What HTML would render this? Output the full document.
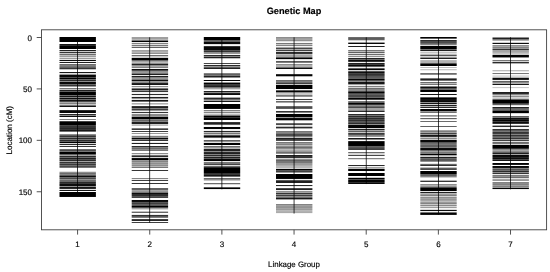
<!DOCTYPE html>
<html><head><meta charset="utf-8"><title>Genetic Map</title>
<style>
html,body{margin:0;padding:0;background:#fff;}
body{width:550px;height:272px;position:relative;overflow:hidden;font-family:"Liberation Sans",sans-serif;}
svg text{font-family:"Liberation Sans",sans-serif;fill:#000;stroke:#000;stroke-width:0.15px;text-rendering:geometricPrecision;}
</style></head><body>
<svg width="550" height="272" viewBox="0 0 550 272" style="position:absolute;left:0;top:0">
<rect x="0" y="0" width="550" height="272" fill="#fff"/>
<g>
<rect x="59.5" y="37" width="36.4" height="5" fill="rgb(0,0,0)"/>
<rect x="59.5" y="44" width="36.4" height="1" fill="rgb(22,22,22)"/>
<rect x="59.5" y="45" width="36.4" height="1" fill="rgb(46,46,46)"/>
<rect x="59.5" y="46" width="36.4" height="3" fill="rgb(0,0,0)"/>
<rect x="59.5" y="50" width="36.4" height="1" fill="rgb(32,32,32)"/>
<rect x="59.5" y="51" width="36.4" height="1" fill="rgb(201,201,201)"/>
<rect x="59.5" y="52" width="36.4" height="1" fill="rgb(53,53,53)"/>
<rect x="59.5" y="53" width="36.4" height="1" fill="rgb(201,201,201)"/>
<rect x="59.5" y="54" width="36.4" height="1" fill="rgb(107,107,107)"/>
<rect x="59.5" y="55" width="36.4" height="1" fill="rgb(189,189,189)"/>
<rect x="59.5" y="56" width="36.4" height="1" fill="rgb(155,155,155)"/>
<rect x="59.5" y="57" width="36.4" height="1" fill="rgb(225,225,225)"/>
<rect x="59.5" y="58" width="36.4" height="1" fill="rgb(154,154,154)"/>
<rect x="59.5" y="59" width="36.4" height="1" fill="rgb(231,231,231)"/>
<rect x="59.5" y="60" width="36.4" height="1" fill="rgb(13,13,13)"/>
<rect x="59.5" y="61" width="36.4" height="1" fill="rgb(243,243,243)"/>
<rect x="59.5" y="62" width="36.4" height="1" fill="rgb(32,32,32)"/>
<rect x="59.5" y="64" width="36.4" height="1" fill="rgb(108,108,108)"/>
<rect x="59.5" y="65" width="36.4" height="1" fill="rgb(128,128,128)"/>
<rect x="59.5" y="66" width="36.4" height="1" fill="rgb(117,117,117)"/>
<rect x="59.5" y="67" width="36.4" height="1" fill="rgb(97,97,97)"/>
<rect x="59.5" y="68" width="36.4" height="1" fill="rgb(53,53,53)"/>
<rect x="59.5" y="69" width="36.4" height="1" fill="rgb(196,196,196)"/>
<rect x="59.5" y="72" width="36.4" height="1" fill="rgb(25,25,25)"/>
<rect x="59.5" y="73" width="36.4" height="1" fill="rgb(228,228,228)"/>
<rect x="59.5" y="74" width="36.4" height="1" fill="rgb(150,150,150)"/>
<rect x="59.5" y="75" width="36.4" height="2" fill="rgb(8,8,8)"/>
<rect x="59.5" y="77" width="36.4" height="1" fill="rgb(76,76,76)"/>
<rect x="59.5" y="78" width="36.4" height="1" fill="rgb(0,0,0)"/>
<rect x="59.5" y="79" width="36.4" height="1" fill="rgb(108,108,108)"/>
<rect x="59.5" y="80" width="36.4" height="1" fill="rgb(43,43,43)"/>
<rect x="59.5" y="81" width="36.4" height="1" fill="rgb(142,142,142)"/>
<rect x="59.5" y="82" width="36.4" height="2" fill="rgb(8,8,8)"/>
<rect x="59.5" y="84" width="36.4" height="1" fill="rgb(106,106,106)"/>
<rect x="59.5" y="85" width="36.4" height="1" fill="rgb(53,53,53)"/>
<rect x="59.5" y="86" width="36.4" height="1" fill="rgb(152,152,152)"/>
<rect x="59.5" y="88" width="36.4" height="1" fill="rgb(119,119,119)"/>
<rect x="59.5" y="89" width="36.4" height="1" fill="rgb(201,201,201)"/>
<rect x="59.5" y="90" width="36.4" height="1" fill="rgb(32,32,32)"/>
<rect x="59.5" y="91" width="36.4" height="1" fill="rgb(97,97,97)"/>
<rect x="59.5" y="92" width="36.4" height="3" fill="rgb(0,0,0)"/>
<rect x="59.5" y="95" width="36.4" height="1" fill="rgb(108,108,108)"/>
<rect x="59.5" y="96" width="36.4" height="1" fill="rgb(22,22,22)"/>
<rect x="59.5" y="97" width="36.4" height="1" fill="rgb(131,131,131)"/>
<rect x="59.5" y="98" width="36.4" height="1" fill="rgb(13,13,13)"/>
<rect x="59.5" y="99" width="36.4" height="1" fill="rgb(108,108,108)"/>
<rect x="59.5" y="100" width="36.4" height="1" fill="rgb(18,18,18)"/>
<rect x="59.5" y="101" width="36.4" height="1" fill="rgb(76,76,76)"/>
<rect x="59.5" y="102" width="36.4" height="1" fill="rgb(171,171,171)"/>
<rect x="59.5" y="103" width="36.4" height="1" fill="rgb(131,131,131)"/>
<rect x="59.5" y="104" width="36.4" height="1" fill="rgb(201,201,201)"/>
<rect x="59.5" y="105" width="36.4" height="1" fill="rgb(119,119,119)"/>
<rect x="59.5" y="106" width="36.4" height="1" fill="rgb(22,22,22)"/>
<rect x="59.5" y="110" width="36.4" height="1" fill="rgb(43,43,43)"/>
<rect x="59.5" y="111" width="36.4" height="2" fill="rgb(8,8,8)"/>
<rect x="59.5" y="114" width="36.4" height="1" fill="rgb(43,43,43)"/>
<rect x="59.5" y="115" width="36.4" height="1" fill="rgb(142,142,142)"/>
<rect x="59.5" y="116" width="36.4" height="1" fill="rgb(13,13,13)"/>
<rect x="59.5" y="119" width="36.4" height="1" fill="rgb(133,133,133)"/>
<rect x="59.5" y="121" width="36.4" height="1" fill="rgb(66,66,66)"/>
<rect x="59.5" y="122" width="36.4" height="3" fill="rgb(0,0,0)"/>
<rect x="59.5" y="125" width="36.4" height="1" fill="rgb(72,72,72)"/>
<rect x="59.5" y="126" width="36.4" height="2" fill="rgb(53,53,53)"/>
<rect x="59.5" y="128" width="36.4" height="1" fill="rgb(39,39,39)"/>
<rect x="59.5" y="129" width="36.4" height="1" fill="rgb(55,55,55)"/>
<rect x="59.5" y="130" width="36.4" height="1" fill="rgb(22,22,22)"/>
<rect x="59.5" y="131" width="36.4" height="1" fill="rgb(111,111,111)"/>
<rect x="59.5" y="134" width="36.4" height="1" fill="rgb(142,142,142)"/>
<rect x="59.5" y="135" width="36.4" height="1" fill="rgb(94,94,94)"/>
<rect x="59.5" y="136" width="36.4" height="1" fill="rgb(51,51,51)"/>
<rect x="59.5" y="137" width="36.4" height="1" fill="rgb(121,121,121)"/>
<rect x="59.5" y="138" width="36.4" height="1" fill="rgb(43,43,43)"/>
<rect x="59.5" y="139" width="36.4" height="1" fill="rgb(119,119,119)"/>
<rect x="59.5" y="140" width="36.4" height="1" fill="rgb(43,43,43)"/>
<rect x="59.5" y="141" width="36.4" height="1" fill="rgb(96,96,96)"/>
<rect x="59.5" y="142" width="36.4" height="1" fill="rgb(0,0,0)"/>
<rect x="59.5" y="143" width="36.4" height="1" fill="rgb(213,213,213)"/>
<rect x="59.5" y="144" width="36.4" height="1" fill="rgb(43,43,43)"/>
<rect x="59.5" y="145" width="36.4" height="1" fill="rgb(243,243,243)"/>
<rect x="59.5" y="146" width="36.4" height="1" fill="rgb(53,53,53)"/>
<rect x="59.5" y="149" width="36.4" height="1" fill="rgb(108,108,108)"/>
<rect x="59.5" y="150" width="36.4" height="1" fill="rgb(75,75,75)"/>
<rect x="59.5" y="151" width="36.4" height="1" fill="rgb(119,119,119)"/>
<rect x="59.5" y="152" width="36.4" height="2" fill="rgb(0,0,0)"/>
<rect x="59.5" y="154" width="36.4" height="1" fill="rgb(97,97,97)"/>
<rect x="59.5" y="155" width="36.4" height="1" fill="rgb(165,165,165)"/>
<rect x="59.5" y="156" width="36.4" height="1" fill="rgb(43,43,43)"/>
<rect x="59.5" y="157" width="36.4" height="1" fill="rgb(108,108,108)"/>
<rect x="59.5" y="158" width="36.4" height="1" fill="rgb(32,32,32)"/>
<rect x="59.5" y="159" width="36.4" height="1" fill="rgb(83,83,83)"/>
<rect x="59.5" y="160" width="36.4" height="1" fill="rgb(43,43,43)"/>
<rect x="59.5" y="161" width="36.4" height="1" fill="rgb(165,165,165)"/>
<rect x="59.5" y="162" width="36.4" height="1" fill="rgb(53,53,53)"/>
<rect x="59.5" y="163" width="36.4" height="1" fill="rgb(108,108,108)"/>
<rect x="59.5" y="164" width="36.4" height="1" fill="rgb(58,58,58)"/>
<rect x="59.5" y="165" width="36.4" height="1" fill="rgb(112,112,112)"/>
<rect x="59.5" y="166" width="36.4" height="1" fill="rgb(75,75,75)"/>
<rect x="59.5" y="167" width="36.4" height="1" fill="rgb(119,119,119)"/>
<rect x="59.5" y="171" width="36.4" height="1" fill="rgb(225,225,225)"/>
<rect x="59.5" y="172" width="36.4" height="1" fill="rgb(142,142,142)"/>
<rect x="59.5" y="173" width="36.4" height="1" fill="rgb(108,108,108)"/>
<rect x="59.5" y="174" width="36.4" height="1" fill="rgb(133,133,133)"/>
<rect x="59.5" y="175" width="36.4" height="1" fill="rgb(91,91,91)"/>
<rect x="59.5" y="176" width="36.4" height="1" fill="rgb(13,13,13)"/>
<rect x="59.5" y="177" width="36.4" height="1" fill="rgb(106,106,106)"/>
<rect x="59.5" y="178" width="36.4" height="1" fill="rgb(76,76,76)"/>
<rect x="59.5" y="179" width="36.4" height="1" fill="rgb(147,147,147)"/>
<rect x="59.5" y="180" width="36.4" height="2" fill="rgb(106,106,106)"/>
<rect x="59.5" y="182" width="36.4" height="1" fill="rgb(43,43,43)"/>
<rect x="59.5" y="183" width="36.4" height="1" fill="rgb(57,57,57)"/>
<rect x="59.5" y="184" width="36.4" height="2" fill="rgb(13,13,13)"/>
<rect x="59.5" y="186" width="36.4" height="1" fill="rgb(144,144,144)"/>
<rect x="59.5" y="187" width="36.4" height="1" fill="rgb(22,22,22)"/>
<rect x="59.5" y="188" width="36.4" height="1" fill="rgb(43,43,43)"/>
<rect x="59.5" y="189" width="36.4" height="1" fill="rgb(230,230,230)"/>
<rect x="59.5" y="190" width="36.4" height="1" fill="rgb(22,22,22)"/>
<rect x="59.5" y="192" width="36.4" height="4" fill="rgb(0,0,0)"/>
<rect x="59.5" y="196" width="36.4" height="1" fill="rgb(8,8,8)"/>
</g>
<rect x="77.20" y="37.3" width="0.75" height="159.40" fill="#000"/>
<g>
<rect x="131.7" y="37" width="36.4" height="2" fill="rgb(159,159,159)"/>
<rect x="131.7" y="39" width="36.4" height="1" fill="rgb(183,183,183)"/>
<rect x="131.7" y="40" width="36.4" height="1" fill="rgb(124,124,124)"/>
<rect x="131.7" y="41" width="36.4" height="1" fill="rgb(0,0,0)"/>
<rect x="131.7" y="42" width="36.4" height="1" fill="rgb(237,237,237)"/>
<rect x="131.7" y="43" width="36.4" height="1" fill="rgb(131,131,131)"/>
<rect x="131.7" y="44" width="36.4" height="1" fill="rgb(225,225,225)"/>
<rect x="131.7" y="45" width="36.4" height="1" fill="rgb(119,119,119)"/>
<rect x="131.7" y="46" width="36.4" height="1" fill="rgb(213,213,213)"/>
<rect x="131.7" y="47" width="36.4" height="1" fill="rgb(97,97,97)"/>
<rect x="131.7" y="50" width="36.4" height="1" fill="rgb(161,161,161)"/>
<rect x="131.7" y="51" width="36.4" height="1" fill="rgb(174,174,174)"/>
<rect x="131.7" y="52" width="36.4" height="1" fill="rgb(181,181,181)"/>
<rect x="131.7" y="53" width="36.4" height="1" fill="rgb(144,144,144)"/>
<rect x="131.7" y="55" width="36.4" height="1" fill="rgb(108,108,108)"/>
<rect x="131.7" y="56" width="36.4" height="1" fill="rgb(203,203,203)"/>
<rect x="131.7" y="57" width="36.4" height="1" fill="rgb(204,204,204)"/>
<rect x="131.7" y="58" width="36.4" height="2" fill="rgb(0,0,0)"/>
<rect x="131.7" y="60" width="36.4" height="1" fill="rgb(108,108,108)"/>
<rect x="131.7" y="61" width="36.4" height="1" fill="rgb(165,165,165)"/>
<rect x="131.7" y="62" width="36.4" height="1" fill="rgb(189,189,189)"/>
<rect x="131.7" y="63" width="36.4" height="1" fill="rgb(142,142,142)"/>
<rect x="131.7" y="64" width="36.4" height="1" fill="rgb(32,32,32)"/>
<rect x="131.7" y="65" width="36.4" height="1" fill="rgb(142,142,142)"/>
<rect x="131.7" y="66" width="36.4" height="1" fill="rgb(165,165,165)"/>
<rect x="131.7" y="67" width="36.4" height="1" fill="rgb(131,131,131)"/>
<rect x="131.7" y="68" width="36.4" height="1" fill="rgb(243,243,243)"/>
<rect x="131.7" y="69" width="36.4" height="1" fill="rgb(13,13,13)"/>
<rect x="131.7" y="70" width="36.4" height="1" fill="rgb(81,81,81)"/>
<rect x="131.7" y="71" width="36.4" height="1" fill="rgb(144,144,144)"/>
<rect x="131.7" y="72" width="36.4" height="1" fill="rgb(154,154,154)"/>
<rect x="131.7" y="73" width="36.4" height="1" fill="rgb(119,119,119)"/>
<rect x="131.7" y="74" width="36.4" height="1" fill="rgb(32,32,32)"/>
<rect x="131.7" y="75" width="36.4" height="1" fill="rgb(237,237,237)"/>
<rect x="131.7" y="76" width="36.4" height="1" fill="rgb(32,32,32)"/>
<rect x="131.7" y="77" width="36.4" height="1" fill="rgb(131,131,131)"/>
<rect x="131.7" y="78" width="36.4" height="1" fill="rgb(154,154,154)"/>
<rect x="131.7" y="79" width="36.4" height="1" fill="rgb(123,123,123)"/>
<rect x="131.7" y="80" width="36.4" height="1" fill="rgb(13,13,13)"/>
<rect x="131.7" y="81" width="36.4" height="1" fill="rgb(154,154,154)"/>
<rect x="131.7" y="82" width="36.4" height="1" fill="rgb(137,137,137)"/>
<rect x="131.7" y="83" width="36.4" height="1" fill="rgb(35,35,35)"/>
<rect x="131.7" y="84" width="36.4" height="1" fill="rgb(21,21,21)"/>
<rect x="131.7" y="86" width="36.4" height="1" fill="rgb(142,142,142)"/>
<rect x="131.7" y="87" width="36.4" height="1" fill="rgb(231,231,231)"/>
<rect x="131.7" y="88" width="36.4" height="1" fill="rgb(124,124,124)"/>
<rect x="131.7" y="89" width="36.4" height="1" fill="rgb(32,32,32)"/>
<rect x="131.7" y="90" width="36.4" height="1" fill="rgb(142,142,142)"/>
<rect x="131.7" y="91" width="36.4" height="1" fill="rgb(53,53,53)"/>
<rect x="131.7" y="92" width="36.4" height="2" fill="rgb(243,243,243)"/>
<rect x="131.7" y="94" width="36.4" height="1" fill="rgb(43,43,43)"/>
<rect x="131.7" y="95" width="36.4" height="2" fill="rgb(243,243,243)"/>
<rect x="131.7" y="97" width="36.4" height="1" fill="rgb(32,32,32)"/>
<rect x="131.7" y="98" width="36.4" height="1" fill="rgb(148,148,148)"/>
<rect x="131.7" y="99" width="36.4" height="1" fill="rgb(231,231,231)"/>
<rect x="131.7" y="100" width="36.4" height="1" fill="rgb(22,22,22)"/>
<rect x="131.7" y="101" width="36.4" height="1" fill="rgb(111,111,111)"/>
<rect x="131.7" y="103" width="36.4" height="1" fill="rgb(176,176,176)"/>
<rect x="131.7" y="104" width="36.4" height="1" fill="rgb(211,211,211)"/>
<rect x="131.7" y="106" width="36.4" height="1" fill="rgb(53,53,53)"/>
<rect x="131.7" y="107" width="36.4" height="1" fill="rgb(32,32,32)"/>
<rect x="131.7" y="108" width="36.4" height="1" fill="rgb(131,131,131)"/>
<rect x="131.7" y="109" width="36.4" height="1" fill="rgb(62,62,62)"/>
<rect x="131.7" y="110" width="36.4" height="1" fill="rgb(152,152,152)"/>
<rect x="131.7" y="111" width="36.4" height="1" fill="rgb(243,243,243)"/>
<rect x="131.7" y="112" width="36.4" height="1" fill="rgb(53,53,53)"/>
<rect x="131.7" y="113" width="36.4" height="1" fill="rgb(243,243,243)"/>
<rect x="131.7" y="114" width="36.4" height="1" fill="rgb(141,141,141)"/>
<rect x="131.7" y="115" width="36.4" height="1" fill="rgb(137,137,137)"/>
<rect x="131.7" y="116" width="36.4" height="1" fill="rgb(154,154,154)"/>
<rect x="131.7" y="117" width="36.4" height="2" fill="rgb(0,0,0)"/>
<rect x="131.7" y="119" width="36.4" height="1" fill="rgb(131,131,131)"/>
<rect x="131.7" y="120" width="36.4" height="1" fill="rgb(102,102,102)"/>
<rect x="131.7" y="121" width="36.4" height="1" fill="rgb(135,135,135)"/>
<rect x="131.7" y="122" width="36.4" height="2" fill="rgb(32,32,32)"/>
<rect x="131.7" y="124" width="36.4" height="1" fill="rgb(201,201,201)"/>
<rect x="131.7" y="125" width="36.4" height="1" fill="rgb(189,189,189)"/>
<rect x="131.7" y="128" width="36.4" height="1" fill="rgb(126,126,126)"/>
<rect x="131.7" y="129" width="36.4" height="1" fill="rgb(62,62,62)"/>
<rect x="131.7" y="131" width="36.4" height="1" fill="rgb(64,64,64)"/>
<rect x="131.7" y="133" width="36.4" height="1" fill="rgb(152,152,152)"/>
<rect x="131.7" y="135" width="36.4" height="1" fill="rgb(232,232,232)"/>
<rect x="131.7" y="136" width="36.4" height="1" fill="rgb(124,124,124)"/>
<rect x="131.7" y="137" width="36.4" height="1" fill="rgb(148,148,148)"/>
<rect x="131.7" y="138" width="36.4" height="1" fill="rgb(8,8,8)"/>
<rect x="131.7" y="139" width="36.4" height="1" fill="rgb(119,119,119)"/>
<rect x="131.7" y="140" width="36.4" height="1" fill="rgb(53,53,53)"/>
<rect x="131.7" y="142" width="36.4" height="1" fill="rgb(235,235,235)"/>
<rect x="131.7" y="143" width="36.4" height="1" fill="rgb(32,32,32)"/>
<rect x="131.7" y="146" width="36.4" height="1" fill="rgb(43,43,43)"/>
<rect x="131.7" y="147" width="36.4" height="1" fill="rgb(131,131,131)"/>
<rect x="131.7" y="148" width="36.4" height="1" fill="rgb(108,108,108)"/>
<rect x="131.7" y="149" width="36.4" height="1" fill="rgb(142,142,142)"/>
<rect x="131.7" y="150" width="36.4" height="1" fill="rgb(119,119,119)"/>
<rect x="131.7" y="153" width="36.4" height="1" fill="rgb(142,142,142)"/>
<rect x="131.7" y="154" width="36.4" height="1" fill="rgb(231,231,231)"/>
<rect x="131.7" y="155" width="36.4" height="1" fill="rgb(115,115,115)"/>
<rect x="131.7" y="156" width="36.4" height="1" fill="rgb(43,43,43)"/>
<rect x="131.7" y="157" width="36.4" height="1" fill="rgb(213,213,213)"/>
<rect x="131.7" y="158" width="36.4" height="1" fill="rgb(17,17,17)"/>
<rect x="131.7" y="159" width="36.4" height="1" fill="rgb(0,0,0)"/>
<rect x="131.7" y="160" width="36.4" height="1" fill="rgb(154,154,154)"/>
<rect x="131.7" y="161" width="36.4" height="1" fill="rgb(131,131,131)"/>
<rect x="131.7" y="162" width="36.4" height="1" fill="rgb(165,165,165)"/>
<rect x="131.7" y="163" width="36.4" height="1" fill="rgb(142,142,142)"/>
<rect x="131.7" y="164" width="36.4" height="1" fill="rgb(165,165,165)"/>
<rect x="131.7" y="165" width="36.4" height="1" fill="rgb(142,142,142)"/>
<rect x="131.7" y="166" width="36.4" height="1" fill="rgb(183,183,183)"/>
<rect x="131.7" y="167" width="36.4" height="1" fill="rgb(119,119,119)"/>
<rect x="131.7" y="170" width="36.4" height="1" fill="rgb(53,53,53)"/>
<rect x="131.7" y="178" width="36.4" height="1" fill="rgb(133,133,133)"/>
<rect x="131.7" y="179" width="36.4" height="1" fill="rgb(239,239,239)"/>
<rect x="131.7" y="180" width="36.4" height="1" fill="rgb(64,64,64)"/>
<rect x="131.7" y="183" width="36.4" height="1" fill="rgb(53,53,53)"/>
<rect x="131.7" y="188" width="36.4" height="2" fill="rgb(97,97,97)"/>
<rect x="131.7" y="190" width="36.4" height="1" fill="rgb(165,165,165)"/>
<rect x="131.7" y="191" width="36.4" height="1" fill="rgb(151,151,151)"/>
<rect x="131.7" y="192" width="36.4" height="1" fill="rgb(121,121,121)"/>
<rect x="131.7" y="193" width="36.4" height="1" fill="rgb(13,13,13)"/>
<rect x="131.7" y="194" width="36.4" height="2" fill="rgb(45,45,45)"/>
<rect x="131.7" y="196" width="36.4" height="1" fill="rgb(84,84,84)"/>
<rect x="131.7" y="197" width="36.4" height="1" fill="rgb(69,69,69)"/>
<rect x="131.7" y="200" width="36.4" height="1" fill="rgb(8,8,8)"/>
<rect x="131.7" y="201" width="36.4" height="1" fill="rgb(15,15,15)"/>
<rect x="131.7" y="202" width="36.4" height="1" fill="rgb(86,86,86)"/>
<rect x="131.7" y="203" width="36.4" height="1" fill="rgb(64,64,64)"/>
<rect x="131.7" y="204" width="36.4" height="1" fill="rgb(97,97,97)"/>
<rect x="131.7" y="205" width="36.4" height="1" fill="rgb(86,86,86)"/>
<rect x="131.7" y="206" width="36.4" height="1" fill="rgb(0,0,0)"/>
<rect x="131.7" y="207" width="36.4" height="1" fill="rgb(79,79,79)"/>
<rect x="131.7" y="208" width="36.4" height="1" fill="rgb(165,165,165)"/>
<rect x="131.7" y="209" width="36.4" height="1" fill="rgb(218,218,218)"/>
<rect x="131.7" y="211" width="36.4" height="1" fill="rgb(193,193,193)"/>
<rect x="131.7" y="212" width="36.4" height="1" fill="rgb(104,104,104)"/>
<rect x="131.7" y="214" width="36.4" height="1" fill="rgb(238,238,238)"/>
<rect x="131.7" y="215" width="36.4" height="1" fill="rgb(50,50,50)"/>
<rect x="131.7" y="216" width="36.4" height="1" fill="rgb(88,88,88)"/>
<rect x="131.7" y="217" width="36.4" height="1" fill="rgb(126,126,126)"/>
<rect x="131.7" y="219" width="36.4" height="1" fill="rgb(66,66,66)"/>
<rect x="131.7" y="220" width="36.4" height="1" fill="rgb(41,41,41)"/>
<rect x="131.7" y="222" width="36.4" height="1" fill="rgb(63,63,63)"/>
</g>
<rect x="149.36" y="37.3" width="0.75" height="185.40" fill="#000"/>
<g>
<rect x="203.8" y="37" width="36.4" height="3" fill="rgb(0,0,0)"/>
<rect x="203.8" y="40" width="36.4" height="2" fill="rgb(97,97,97)"/>
<rect x="203.8" y="42" width="36.4" height="2" fill="rgb(8,8,8)"/>
<rect x="203.8" y="44" width="36.4" height="1" fill="rgb(223,223,223)"/>
<rect x="203.8" y="45" width="36.4" height="1" fill="rgb(249,249,249)"/>
<rect x="203.8" y="46" width="36.4" height="1" fill="rgb(51,51,51)"/>
<rect x="203.8" y="47" width="36.4" height="3" fill="rgb(8,8,8)"/>
<rect x="203.8" y="50" width="36.4" height="1" fill="rgb(86,86,86)"/>
<rect x="203.8" y="51" width="36.4" height="1" fill="rgb(51,51,51)"/>
<rect x="203.8" y="52" width="36.4" height="1" fill="rgb(142,142,142)"/>
<rect x="203.8" y="53" width="36.4" height="1" fill="rgb(152,152,152)"/>
<rect x="203.8" y="54" width="36.4" height="1" fill="rgb(249,249,249)"/>
<rect x="203.8" y="55" width="36.4" height="1" fill="rgb(43,43,43)"/>
<rect x="203.8" y="56" width="36.4" height="1" fill="rgb(131,131,131)"/>
<rect x="203.8" y="57" width="36.4" height="1" fill="rgb(32,32,32)"/>
<rect x="203.8" y="58" width="36.4" height="1" fill="rgb(193,193,193)"/>
<rect x="203.8" y="63" width="36.4" height="1" fill="rgb(71,71,71)"/>
<rect x="203.8" y="64" width="36.4" height="1" fill="rgb(249,249,249)"/>
<rect x="203.8" y="65" width="36.4" height="1" fill="rgb(43,43,43)"/>
<rect x="203.8" y="66" width="36.4" height="1" fill="rgb(154,154,154)"/>
<rect x="203.8" y="67" width="36.4" height="1" fill="rgb(94,94,94)"/>
<rect x="203.8" y="68" width="36.4" height="1" fill="rgb(35,35,35)"/>
<rect x="203.8" y="73" width="36.4" height="1" fill="rgb(131,131,131)"/>
<rect x="203.8" y="74" width="36.4" height="1" fill="rgb(97,97,97)"/>
<rect x="203.8" y="75" width="36.4" height="1" fill="rgb(119,119,119)"/>
<rect x="203.8" y="76" width="36.4" height="1" fill="rgb(32,32,32)"/>
<rect x="203.8" y="77" width="36.4" height="1" fill="rgb(142,142,142)"/>
<rect x="203.8" y="80" width="36.4" height="1" fill="rgb(3,3,3)"/>
<rect x="203.8" y="82" width="36.4" height="1" fill="rgb(145,145,145)"/>
<rect x="203.8" y="83" width="36.4" height="1" fill="rgb(0,0,0)"/>
<rect x="203.8" y="84" width="36.4" height="1" fill="rgb(64,64,64)"/>
<rect x="203.8" y="85" width="36.4" height="1" fill="rgb(53,53,53)"/>
<rect x="203.8" y="86" width="36.4" height="1" fill="rgb(32,32,32)"/>
<rect x="203.8" y="87" width="36.4" height="1" fill="rgb(119,119,119)"/>
<rect x="203.8" y="88" width="36.4" height="1" fill="rgb(165,165,165)"/>
<rect x="203.8" y="89" width="36.4" height="1" fill="rgb(223,223,223)"/>
<rect x="203.8" y="91" width="36.4" height="1" fill="rgb(32,32,32)"/>
<rect x="203.8" y="92" width="36.4" height="1" fill="rgb(142,142,142)"/>
<rect x="203.8" y="93" width="36.4" height="1" fill="rgb(32,32,32)"/>
<rect x="203.8" y="94" width="36.4" height="1" fill="rgb(13,13,13)"/>
<rect x="203.8" y="97" width="36.4" height="1" fill="rgb(169,169,169)"/>
<rect x="203.8" y="98" width="36.4" height="1" fill="rgb(40,40,40)"/>
<rect x="203.8" y="99" width="36.4" height="1" fill="rgb(108,108,108)"/>
<rect x="203.8" y="100" width="36.4" height="1" fill="rgb(161,161,161)"/>
<rect x="203.8" y="101" width="36.4" height="1" fill="rgb(22,22,22)"/>
<rect x="203.8" y="104" width="36.4" height="4" fill="rgb(0,0,0)"/>
<rect x="203.8" y="108" width="36.4" height="1" fill="rgb(16,16,16)"/>
<rect x="203.8" y="110" width="36.4" height="1" fill="rgb(128,128,128)"/>
<rect x="203.8" y="111" width="36.4" height="1" fill="rgb(213,213,213)"/>
<rect x="203.8" y="112" width="36.4" height="1" fill="rgb(131,131,131)"/>
<rect x="203.8" y="113" width="36.4" height="1" fill="rgb(225,225,225)"/>
<rect x="203.8" y="114" width="36.4" height="1" fill="rgb(190,190,190)"/>
<rect x="203.8" y="115" width="36.4" height="1" fill="rgb(119,119,119)"/>
<rect x="203.8" y="116" width="36.4" height="1" fill="rgb(0,0,0)"/>
<rect x="203.8" y="117" width="36.4" height="1" fill="rgb(50,50,50)"/>
<rect x="203.8" y="118" width="36.4" height="2" fill="rgb(0,0,0)"/>
<rect x="203.8" y="122" width="36.4" height="1" fill="rgb(53,53,53)"/>
<rect x="203.8" y="123" width="36.4" height="1" fill="rgb(32,32,32)"/>
<rect x="203.8" y="124" width="36.4" height="1" fill="rgb(97,97,97)"/>
<rect x="203.8" y="125" width="36.4" height="2" fill="rgb(249,249,249)"/>
<rect x="203.8" y="127" width="36.4" height="2" fill="rgb(3,3,3)"/>
<rect x="203.8" y="129" width="36.4" height="2" fill="rgb(243,243,243)"/>
<rect x="203.8" y="131" width="36.4" height="1" fill="rgb(43,43,43)"/>
<rect x="203.8" y="132" width="36.4" height="1" fill="rgb(189,189,189)"/>
<rect x="203.8" y="133" width="36.4" height="1" fill="rgb(119,119,119)"/>
<rect x="203.8" y="134" width="36.4" height="1" fill="rgb(201,201,201)"/>
<rect x="203.8" y="135" width="36.4" height="1" fill="rgb(80,80,80)"/>
<rect x="203.8" y="136" width="36.4" height="1" fill="rgb(8,8,8)"/>
<rect x="203.8" y="137" width="36.4" height="1" fill="rgb(98,98,98)"/>
<rect x="203.8" y="138" width="36.4" height="1" fill="rgb(249,249,249)"/>
<rect x="203.8" y="140" width="36.4" height="1" fill="rgb(97,97,97)"/>
<rect x="203.8" y="141" width="36.4" height="1" fill="rgb(150,150,150)"/>
<rect x="203.8" y="142" width="36.4" height="1" fill="rgb(225,225,225)"/>
<rect x="203.8" y="143" width="36.4" height="2" fill="rgb(0,0,0)"/>
<rect x="203.8" y="146" width="36.4" height="1" fill="rgb(108,108,108)"/>
<rect x="203.8" y="147" width="36.4" height="1" fill="rgb(154,154,154)"/>
<rect x="203.8" y="148" width="36.4" height="1" fill="rgb(183,183,183)"/>
<rect x="203.8" y="149" width="36.4" height="2" fill="rgb(32,32,32)"/>
<rect x="203.8" y="151" width="36.4" height="1" fill="rgb(143,143,143)"/>
<rect x="203.8" y="152" width="36.4" height="1" fill="rgb(43,43,43)"/>
<rect x="203.8" y="153" width="36.4" height="1" fill="rgb(32,32,32)"/>
<rect x="203.8" y="154" width="36.4" height="1" fill="rgb(131,131,131)"/>
<rect x="203.8" y="155" width="36.4" height="1" fill="rgb(43,43,43)"/>
<rect x="203.8" y="156" width="36.4" height="1" fill="rgb(142,142,142)"/>
<rect x="203.8" y="157" width="36.4" height="1" fill="rgb(32,32,32)"/>
<rect x="203.8" y="158" width="36.4" height="1" fill="rgb(95,95,95)"/>
<rect x="203.8" y="159" width="36.4" height="1" fill="rgb(8,8,8)"/>
<rect x="203.8" y="160" width="36.4" height="1" fill="rgb(0,0,0)"/>
<rect x="203.8" y="161" width="36.4" height="1" fill="rgb(237,237,237)"/>
<rect x="203.8" y="162" width="36.4" height="1" fill="rgb(120,120,120)"/>
<rect x="203.8" y="163" width="36.4" height="1" fill="rgb(121,121,121)"/>
<rect x="203.8" y="164" width="36.4" height="1" fill="rgb(70,70,70)"/>
<rect x="203.8" y="165" width="36.4" height="1" fill="rgb(225,225,225)"/>
<rect x="203.8" y="166" width="36.4" height="1" fill="rgb(108,108,108)"/>
<rect x="203.8" y="167" width="36.4" height="1" fill="rgb(45,45,45)"/>
<rect x="203.8" y="168" width="36.4" height="5" fill="rgb(0,0,0)"/>
<rect x="203.8" y="173" width="36.4" height="1" fill="rgb(51,51,51)"/>
<rect x="203.8" y="174" width="36.4" height="1" fill="rgb(58,58,58)"/>
<rect x="203.8" y="175" width="36.4" height="1" fill="rgb(22,22,22)"/>
<rect x="203.8" y="176" width="36.4" height="1" fill="rgb(110,110,110)"/>
<rect x="203.8" y="178" width="36.4" height="1" fill="rgb(108,108,108)"/>
<rect x="203.8" y="179" width="36.4" height="1" fill="rgb(144,144,144)"/>
<rect x="203.8" y="180" width="36.4" height="1" fill="rgb(198,198,198)"/>
<rect x="203.8" y="183" width="36.4" height="1" fill="rgb(108,108,108)"/>
<rect x="203.8" y="184" width="36.4" height="1" fill="rgb(216,216,216)"/>
<rect x="203.8" y="187" width="36.4" height="1" fill="rgb(90,90,90)"/>
<rect x="203.8" y="188" width="36.4" height="1" fill="rgb(0,0,0)"/>
<rect x="203.8" y="189" width="36.4" height="1" fill="rgb(237,237,237)"/>
</g>
<rect x="221.52" y="37.3" width="0.75" height="152.00" fill="#000"/>
<g>
<rect x="276.0" y="37" width="36.4" height="1" fill="rgb(142,142,142)"/>
<rect x="276.0" y="38" width="36.4" height="1" fill="rgb(158,158,158)"/>
<rect x="276.0" y="39" width="36.4" height="1" fill="rgb(165,165,165)"/>
<rect x="276.0" y="40" width="36.4" height="1" fill="rgb(144,144,144)"/>
<rect x="276.0" y="41" width="36.4" height="1" fill="rgb(225,225,225)"/>
<rect x="276.0" y="42" width="36.4" height="1" fill="rgb(249,249,249)"/>
<rect x="276.0" y="43" width="36.4" height="1" fill="rgb(119,119,119)"/>
<rect x="276.0" y="44" width="36.4" height="1" fill="rgb(201,201,201)"/>
<rect x="276.0" y="45" width="36.4" height="1" fill="rgb(131,131,131)"/>
<rect x="276.0" y="46" width="36.4" height="1" fill="rgb(243,243,243)"/>
<rect x="276.0" y="47" width="36.4" height="1" fill="rgb(164,164,164)"/>
<rect x="276.0" y="48" width="36.4" height="1" fill="rgb(69,69,69)"/>
<rect x="276.0" y="49" width="36.4" height="1" fill="rgb(175,175,175)"/>
<rect x="276.0" y="50" width="36.4" height="1" fill="rgb(64,64,64)"/>
<rect x="276.0" y="51" width="36.4" height="1" fill="rgb(213,213,213)"/>
<rect x="276.0" y="52" width="36.4" height="1" fill="rgb(43,43,43)"/>
<rect x="276.0" y="53" width="36.4" height="1" fill="rgb(56,56,56)"/>
<rect x="276.0" y="54" width="36.4" height="1" fill="rgb(189,189,189)"/>
<rect x="276.0" y="55" width="36.4" height="2" fill="rgb(165,165,165)"/>
<rect x="276.0" y="57" width="36.4" height="1" fill="rgb(92,92,92)"/>
<rect x="276.0" y="58" width="36.4" height="1" fill="rgb(0,0,0)"/>
<rect x="276.0" y="59" width="36.4" height="1" fill="rgb(221,221,221)"/>
<rect x="276.0" y="60" width="36.4" height="1" fill="rgb(249,249,249)"/>
<rect x="276.0" y="61" width="36.4" height="1" fill="rgb(90,90,90)"/>
<rect x="276.0" y="62" width="36.4" height="1" fill="rgb(128,128,128)"/>
<rect x="276.0" y="64" width="36.4" height="1" fill="rgb(142,142,142)"/>
<rect x="276.0" y="65" width="36.4" height="2" fill="rgb(177,177,177)"/>
<rect x="276.0" y="67" width="36.4" height="1" fill="rgb(108,108,108)"/>
<rect x="276.0" y="68" width="36.4" height="1" fill="rgb(13,13,13)"/>
<rect x="276.0" y="74" width="36.4" height="1" fill="rgb(49,49,49)"/>
<rect x="276.0" y="75" width="36.4" height="1" fill="rgb(3,3,3)"/>
<rect x="276.0" y="76" width="36.4" height="1" fill="rgb(180,180,180)"/>
<rect x="276.0" y="80" width="36.4" height="1" fill="rgb(108,108,108)"/>
<rect x="276.0" y="81" width="36.4" height="1" fill="rgb(126,126,126)"/>
<rect x="276.0" y="82" width="36.4" height="1" fill="rgb(110,110,110)"/>
<rect x="276.0" y="83" width="36.4" height="1" fill="rgb(64,64,64)"/>
<rect x="276.0" y="84" width="36.4" height="1" fill="rgb(201,201,201)"/>
<rect x="276.0" y="85" width="36.4" height="4" fill="rgb(0,0,0)"/>
<rect x="276.0" y="89" width="36.4" height="1" fill="rgb(249,249,249)"/>
<rect x="276.0" y="90" width="36.4" height="1" fill="rgb(94,94,94)"/>
<rect x="276.0" y="91" width="36.4" height="1" fill="rgb(3,3,3)"/>
<rect x="276.0" y="92" width="36.4" height="1" fill="rgb(142,142,142)"/>
<rect x="276.0" y="93" width="36.4" height="2" fill="rgb(201,201,201)"/>
<rect x="276.0" y="95" width="36.4" height="1" fill="rgb(119,119,119)"/>
<rect x="276.0" y="96" width="36.4" height="1" fill="rgb(148,148,148)"/>
<rect x="276.0" y="98" width="36.4" height="1" fill="rgb(246,246,246)"/>
<rect x="276.0" y="99" width="36.4" height="1" fill="rgb(64,64,64)"/>
<rect x="276.0" y="100" width="36.4" height="1" fill="rgb(249,249,249)"/>
<rect x="276.0" y="101" width="36.4" height="1" fill="rgb(106,106,106)"/>
<rect x="276.0" y="102" width="36.4" height="1" fill="rgb(167,167,167)"/>
<rect x="276.0" y="106" width="36.4" height="1" fill="rgb(108,108,108)"/>
<rect x="276.0" y="107" width="36.4" height="1" fill="rgb(77,77,77)"/>
<rect x="276.0" y="108" width="36.4" height="1" fill="rgb(97,97,97)"/>
<rect x="276.0" y="111" width="36.4" height="1" fill="rgb(53,53,53)"/>
<rect x="276.0" y="112" width="36.4" height="1" fill="rgb(131,131,131)"/>
<rect x="276.0" y="113" width="36.4" height="1" fill="rgb(249,249,249)"/>
<rect x="276.0" y="114" width="36.4" height="2" fill="rgb(0,0,0)"/>
<rect x="276.0" y="116" width="36.4" height="1" fill="rgb(4,4,4)"/>
<rect x="276.0" y="117" width="36.4" height="1" fill="rgb(154,154,154)"/>
<rect x="276.0" y="118" width="36.4" height="1" fill="rgb(12,12,12)"/>
<rect x="276.0" y="119" width="36.4" height="1" fill="rgb(0,0,0)"/>
<rect x="276.0" y="120" width="36.4" height="1" fill="rgb(175,175,175)"/>
<rect x="276.0" y="123" width="36.4" height="1" fill="rgb(108,108,108)"/>
<rect x="276.0" y="124" width="36.4" height="1" fill="rgb(75,75,75)"/>
<rect x="276.0" y="125" width="36.4" height="1" fill="rgb(236,236,236)"/>
<rect x="276.0" y="126" width="36.4" height="1" fill="rgb(190,190,190)"/>
<rect x="276.0" y="127" width="36.4" height="1" fill="rgb(43,43,43)"/>
<rect x="276.0" y="128" width="36.4" height="1" fill="rgb(170,170,170)"/>
<rect x="276.0" y="131" width="36.4" height="1" fill="rgb(119,119,119)"/>
<rect x="276.0" y="132" width="36.4" height="1" fill="rgb(135,135,135)"/>
<rect x="276.0" y="133" width="36.4" height="1" fill="rgb(121,121,121)"/>
<rect x="276.0" y="134" width="36.4" height="2" fill="rgb(75,75,75)"/>
<rect x="276.0" y="136" width="36.4" height="1" fill="rgb(131,131,131)"/>
<rect x="276.0" y="137" width="36.4" height="1" fill="rgb(201,201,201)"/>
<rect x="276.0" y="138" width="36.4" height="1" fill="rgb(32,32,32)"/>
<rect x="276.0" y="139" width="36.4" height="1" fill="rgb(63,63,63)"/>
<rect x="276.0" y="140" width="36.4" height="1" fill="rgb(79,79,79)"/>
<rect x="276.0" y="142" width="36.4" height="1" fill="rgb(119,119,119)"/>
<rect x="276.0" y="143" width="36.4" height="1" fill="rgb(154,154,154)"/>
<rect x="276.0" y="144" width="36.4" height="1" fill="rgb(131,131,131)"/>
<rect x="276.0" y="145" width="36.4" height="1" fill="rgb(189,189,189)"/>
<rect x="276.0" y="146" width="36.4" height="1" fill="rgb(142,142,142)"/>
<rect x="276.0" y="147" width="36.4" height="1" fill="rgb(108,108,108)"/>
<rect x="276.0" y="148" width="36.4" height="1" fill="rgb(142,142,142)"/>
<rect x="276.0" y="149" width="36.4" height="1" fill="rgb(189,189,189)"/>
<rect x="276.0" y="150" width="36.4" height="1" fill="rgb(171,171,171)"/>
<rect x="276.0" y="151" width="36.4" height="1" fill="rgb(154,154,154)"/>
<rect x="276.0" y="152" width="36.4" height="1" fill="rgb(111,111,111)"/>
<rect x="276.0" y="153" width="36.4" height="1" fill="rgb(145,145,145)"/>
<rect x="276.0" y="155" width="36.4" height="1" fill="rgb(32,32,32)"/>
<rect x="276.0" y="156" width="36.4" height="2" fill="rgb(53,53,53)"/>
<rect x="276.0" y="158" width="36.4" height="1" fill="rgb(213,213,213)"/>
<rect x="276.0" y="159" width="36.4" height="1" fill="rgb(142,142,142)"/>
<rect x="276.0" y="160" width="36.4" height="1" fill="rgb(99,99,99)"/>
<rect x="276.0" y="161" width="36.4" height="2" fill="rgb(119,119,119)"/>
<rect x="276.0" y="163" width="36.4" height="2" fill="rgb(154,154,154)"/>
<rect x="276.0" y="165" width="36.4" height="1" fill="rgb(171,171,171)"/>
<rect x="276.0" y="166" width="36.4" height="2" fill="rgb(183,183,183)"/>
<rect x="276.0" y="168" width="36.4" height="1" fill="rgb(213,213,213)"/>
<rect x="276.0" y="169" width="36.4" height="1" fill="rgb(0,0,0)"/>
<rect x="276.0" y="170" width="36.4" height="1" fill="rgb(86,86,86)"/>
<rect x="276.0" y="171" width="36.4" height="1" fill="rgb(64,64,64)"/>
<rect x="276.0" y="172" width="36.4" height="1" fill="rgb(155,155,155)"/>
<rect x="276.0" y="174" width="36.4" height="4" fill="rgb(0,0,0)"/>
<rect x="276.0" y="178" width="36.4" height="1" fill="rgb(11,11,11)"/>
<rect x="276.0" y="179" width="36.4" height="1" fill="rgb(243,243,243)"/>
<rect x="276.0" y="180" width="36.4" height="1" fill="rgb(86,86,86)"/>
<rect x="276.0" y="181" width="36.4" height="2" fill="rgb(32,32,32)"/>
<rect x="276.0" y="185" width="36.4" height="1" fill="rgb(43,43,43)"/>
<rect x="276.0" y="186" width="36.4" height="1" fill="rgb(238,238,238)"/>
<rect x="276.0" y="188" width="36.4" height="1" fill="rgb(75,75,75)"/>
<rect x="276.0" y="189" width="36.4" height="1" fill="rgb(32,32,32)"/>
<rect x="276.0" y="190" width="36.4" height="1" fill="rgb(243,243,243)"/>
<rect x="276.0" y="191" width="36.4" height="1" fill="rgb(142,142,142)"/>
<rect x="276.0" y="192" width="36.4" height="1" fill="rgb(165,165,165)"/>
<rect x="276.0" y="193" width="36.4" height="1" fill="rgb(53,53,53)"/>
<rect x="276.0" y="194" width="36.4" height="1" fill="rgb(142,142,142)"/>
<rect x="276.0" y="195" width="36.4" height="1" fill="rgb(64,64,64)"/>
<rect x="276.0" y="196" width="36.4" height="1" fill="rgb(142,142,142)"/>
<rect x="276.0" y="197" width="36.4" height="1" fill="rgb(108,108,108)"/>
<rect x="276.0" y="198" width="36.4" height="1" fill="rgb(22,22,22)"/>
<rect x="276.0" y="199" width="36.4" height="1" fill="rgb(162,162,162)"/>
<rect x="276.0" y="204" width="36.4" height="1" fill="rgb(131,131,131)"/>
<rect x="276.0" y="205" width="36.4" height="1" fill="rgb(162,162,162)"/>
<rect x="276.0" y="206" width="36.4" height="1" fill="rgb(151,151,151)"/>
<rect x="276.0" y="207" width="36.4" height="1" fill="rgb(147,147,147)"/>
<rect x="276.0" y="208" width="36.4" height="1" fill="rgb(165,165,165)"/>
<rect x="276.0" y="209" width="36.4" height="1" fill="rgb(154,154,154)"/>
<rect x="276.0" y="210" width="36.4" height="1" fill="rgb(185,185,185)"/>
<rect x="276.0" y="211" width="36.4" height="1" fill="rgb(178,178,178)"/>
<rect x="276.0" y="212" width="36.4" height="1" fill="rgb(171,171,171)"/>
<rect x="276.0" y="213" width="36.4" height="1" fill="rgb(246,246,246)"/>
</g>
<rect x="293.68" y="37.3" width="0.75" height="176.25" fill="#000"/>
<g>
<rect x="348.2" y="37" width="36.4" height="1" fill="rgb(108,108,108)"/>
<rect x="348.2" y="38" width="36.4" height="1" fill="rgb(92,92,92)"/>
<rect x="348.2" y="39" width="36.4" height="1" fill="rgb(99,99,99)"/>
<rect x="348.2" y="40" width="36.4" height="1" fill="rgb(212,212,212)"/>
<rect x="348.2" y="42" width="36.4" height="1" fill="rgb(157,157,157)"/>
<rect x="348.2" y="43" width="36.4" height="1" fill="rgb(8,8,8)"/>
<rect x="348.2" y="46" width="36.4" height="1" fill="rgb(32,32,32)"/>
<rect x="348.2" y="50" width="36.4" height="1" fill="rgb(119,119,119)"/>
<rect x="348.2" y="51" width="36.4" height="1" fill="rgb(189,189,189)"/>
<rect x="348.2" y="52" width="36.4" height="1" fill="rgb(97,97,97)"/>
<rect x="348.2" y="53" width="36.4" height="1" fill="rgb(225,225,225)"/>
<rect x="348.2" y="54" width="36.4" height="1" fill="rgb(108,108,108)"/>
<rect x="348.2" y="55" width="36.4" height="1" fill="rgb(225,225,225)"/>
<rect x="348.2" y="56" width="36.4" height="1" fill="rgb(143,143,143)"/>
<rect x="348.2" y="57" width="36.4" height="1" fill="rgb(243,243,243)"/>
<rect x="348.2" y="58" width="36.4" height="1" fill="rgb(32,32,32)"/>
<rect x="348.2" y="59" width="36.4" height="1" fill="rgb(110,110,110)"/>
<rect x="348.2" y="60" width="36.4" height="1" fill="rgb(13,13,13)"/>
<rect x="348.2" y="61" width="36.4" height="1" fill="rgb(54,54,54)"/>
<rect x="348.2" y="62" width="36.4" height="1" fill="rgb(243,243,243)"/>
<rect x="348.2" y="63" width="36.4" height="1" fill="rgb(32,32,32)"/>
<rect x="348.2" y="64" width="36.4" height="1" fill="rgb(64,64,64)"/>
<rect x="348.2" y="65" width="36.4" height="1" fill="rgb(8,8,8)"/>
<rect x="348.2" y="66" width="36.4" height="1" fill="rgb(95,95,95)"/>
<rect x="348.2" y="67" width="36.4" height="1" fill="rgb(243,243,243)"/>
<rect x="348.2" y="68" width="36.4" height="1" fill="rgb(97,97,97)"/>
<rect x="348.2" y="69" width="36.4" height="1" fill="rgb(3,3,3)"/>
<rect x="348.2" y="70" width="36.4" height="1" fill="rgb(213,213,213)"/>
<rect x="348.2" y="71" width="36.4" height="1" fill="rgb(84,84,84)"/>
<rect x="348.2" y="72" width="36.4" height="1" fill="rgb(15,15,15)"/>
<rect x="348.2" y="73" width="36.4" height="1" fill="rgb(68,68,68)"/>
<rect x="348.2" y="74" width="36.4" height="1" fill="rgb(51,51,51)"/>
<rect x="348.2" y="75" width="36.4" height="1" fill="rgb(64,64,64)"/>
<rect x="348.2" y="76" width="36.4" height="1" fill="rgb(86,86,86)"/>
<rect x="348.2" y="77" width="36.4" height="1" fill="rgb(92,92,92)"/>
<rect x="348.2" y="78" width="36.4" height="1" fill="rgb(97,97,97)"/>
<rect x="348.2" y="79" width="36.4" height="1" fill="rgb(3,3,3)"/>
<rect x="348.2" y="80" width="36.4" height="1" fill="rgb(86,86,86)"/>
<rect x="348.2" y="81" width="36.4" height="1" fill="rgb(140,140,140)"/>
<rect x="348.2" y="82" width="36.4" height="2" fill="rgb(22,22,22)"/>
<rect x="348.2" y="84" width="36.4" height="1" fill="rgb(157,157,157)"/>
<rect x="348.2" y="85" width="36.4" height="1" fill="rgb(241,241,241)"/>
<rect x="348.2" y="86" width="36.4" height="1" fill="rgb(128,128,128)"/>
<rect x="348.2" y="87" width="36.4" height="1" fill="rgb(213,213,213)"/>
<rect x="348.2" y="88" width="36.4" height="1" fill="rgb(108,108,108)"/>
<rect x="348.2" y="89" width="36.4" height="1" fill="rgb(137,137,137)"/>
<rect x="348.2" y="90" width="36.4" height="1" fill="rgb(142,142,142)"/>
<rect x="348.2" y="91" width="36.4" height="1" fill="rgb(75,75,75)"/>
<rect x="348.2" y="92" width="36.4" height="1" fill="rgb(3,3,3)"/>
<rect x="348.2" y="93" width="36.4" height="1" fill="rgb(75,75,75)"/>
<rect x="348.2" y="94" width="36.4" height="1" fill="rgb(97,97,97)"/>
<rect x="348.2" y="95" width="36.4" height="2" fill="rgb(75,75,75)"/>
<rect x="348.2" y="97" width="36.4" height="1" fill="rgb(108,108,108)"/>
<rect x="348.2" y="98" width="36.4" height="1" fill="rgb(3,3,3)"/>
<rect x="348.2" y="99" width="36.4" height="1" fill="rgb(73,73,73)"/>
<rect x="348.2" y="101" width="36.4" height="1" fill="rgb(119,119,119)"/>
<rect x="348.2" y="102" width="36.4" height="1" fill="rgb(97,97,97)"/>
<rect x="348.2" y="103" width="36.4" height="1" fill="rgb(3,3,3)"/>
<rect x="348.2" y="104" width="36.4" height="1" fill="rgb(55,55,55)"/>
<rect x="348.2" y="105" width="36.4" height="1" fill="rgb(142,142,142)"/>
<rect x="348.2" y="106" width="36.4" height="1" fill="rgb(108,108,108)"/>
<rect x="348.2" y="107" width="36.4" height="1" fill="rgb(75,75,75)"/>
<rect x="348.2" y="108" width="36.4" height="2" fill="rgb(165,165,165)"/>
<rect x="348.2" y="110" width="36.4" height="1" fill="rgb(140,140,140)"/>
<rect x="348.2" y="111" width="36.4" height="1" fill="rgb(43,43,43)"/>
<rect x="348.2" y="114" width="36.4" height="1" fill="rgb(43,43,43)"/>
<rect x="348.2" y="115" width="36.4" height="1" fill="rgb(121,121,121)"/>
<rect x="348.2" y="116" width="36.4" height="1" fill="rgb(43,43,43)"/>
<rect x="348.2" y="117" width="36.4" height="1" fill="rgb(95,95,95)"/>
<rect x="348.2" y="118" width="36.4" height="1" fill="rgb(41,41,41)"/>
<rect x="348.2" y="119" width="36.4" height="1" fill="rgb(77,77,77)"/>
<rect x="348.2" y="120" width="36.4" height="1" fill="rgb(47,47,47)"/>
<rect x="348.2" y="121" width="36.4" height="1" fill="rgb(88,88,88)"/>
<rect x="348.2" y="122" width="36.4" height="1" fill="rgb(81,81,81)"/>
<rect x="348.2" y="123" width="36.4" height="1" fill="rgb(43,43,43)"/>
<rect x="348.2" y="124" width="36.4" height="1" fill="rgb(142,142,142)"/>
<rect x="348.2" y="125" width="36.4" height="3" fill="rgb(3,3,3)"/>
<rect x="348.2" y="128" width="36.4" height="1" fill="rgb(213,213,213)"/>
<rect x="348.2" y="129" width="36.4" height="1" fill="rgb(32,32,32)"/>
<rect x="348.2" y="130" width="36.4" height="1" fill="rgb(165,165,165)"/>
<rect x="348.2" y="131" width="36.4" height="1" fill="rgb(97,97,97)"/>
<rect x="348.2" y="132" width="36.4" height="1" fill="rgb(201,201,201)"/>
<rect x="348.2" y="133" width="36.4" height="1" fill="rgb(57,57,57)"/>
<rect x="348.2" y="134" width="36.4" height="1" fill="rgb(81,81,81)"/>
<rect x="348.2" y="135" width="36.4" height="1" fill="rgb(132,132,132)"/>
<rect x="348.2" y="136" width="36.4" height="1" fill="rgb(151,151,151)"/>
<rect x="348.2" y="138" width="36.4" height="1" fill="rgb(22,22,22)"/>
<rect x="348.2" y="139" width="36.4" height="1" fill="rgb(133,133,133)"/>
<rect x="348.2" y="141" width="36.4" height="1" fill="rgb(32,32,32)"/>
<rect x="348.2" y="142" width="36.4" height="3" fill="rgb(0,0,0)"/>
<rect x="348.2" y="145" width="36.4" height="1" fill="rgb(3,3,3)"/>
<rect x="348.2" y="146" width="36.4" height="1" fill="rgb(97,97,97)"/>
<rect x="348.2" y="147" width="36.4" height="1" fill="rgb(86,86,86)"/>
<rect x="348.2" y="148" width="36.4" height="1" fill="rgb(72,72,72)"/>
<rect x="348.2" y="149" width="36.4" height="1" fill="rgb(64,64,64)"/>
<rect x="348.2" y="152" width="36.4" height="1" fill="rgb(108,108,108)"/>
<rect x="348.2" y="153" width="36.4" height="1" fill="rgb(212,212,212)"/>
<rect x="348.2" y="154" width="36.4" height="1" fill="rgb(216,216,216)"/>
<rect x="348.2" y="155" width="36.4" height="1" fill="rgb(72,72,72)"/>
<rect x="348.2" y="158" width="36.4" height="1" fill="rgb(131,131,131)"/>
<rect x="348.2" y="159" width="36.4" height="1" fill="rgb(223,223,223)"/>
<rect x="348.2" y="165" width="36.4" height="1" fill="rgb(43,43,43)"/>
<rect x="348.2" y="166" width="36.4" height="1" fill="rgb(243,243,243)"/>
<rect x="348.2" y="167" width="36.4" height="1" fill="rgb(165,165,165)"/>
<rect x="348.2" y="168" width="36.4" height="1" fill="rgb(189,189,189)"/>
<rect x="348.2" y="169" width="36.4" height="2" fill="rgb(3,3,3)"/>
<rect x="348.2" y="173" width="36.4" height="3" fill="rgb(0,0,0)"/>
<rect x="348.2" y="177" width="36.4" height="1" fill="rgb(204,204,204)"/>
<rect x="348.2" y="178" width="36.4" height="1" fill="rgb(0,0,0)"/>
<rect x="348.2" y="179" width="36.4" height="1" fill="rgb(86,86,86)"/>
<rect x="348.2" y="180" width="36.4" height="2" fill="rgb(3,3,3)"/>
<rect x="348.2" y="182" width="36.4" height="1" fill="rgb(46,46,46)"/>
<rect x="348.2" y="183" width="36.4" height="1" fill="rgb(8,8,8)"/>
</g>
<rect x="365.83" y="37.3" width="0.75" height="146.75" fill="#000"/>
<g>
<rect x="420.3" y="37" width="36.4" height="1" fill="rgb(3,3,3)"/>
<rect x="420.3" y="38" width="36.4" height="1" fill="rgb(97,97,97)"/>
<rect x="420.3" y="40" width="36.4" height="1" fill="rgb(43,43,43)"/>
<rect x="420.3" y="41" width="36.4" height="2" fill="rgb(75,75,75)"/>
<rect x="420.3" y="43" width="36.4" height="1" fill="rgb(101,101,101)"/>
<rect x="420.3" y="44" width="36.4" height="1" fill="rgb(129,129,129)"/>
<rect x="420.3" y="45" width="36.4" height="1" fill="rgb(219,219,219)"/>
<rect x="420.3" y="46" width="36.4" height="3" fill="rgb(0,0,0)"/>
<rect x="420.3" y="49" width="36.4" height="1" fill="rgb(110,110,110)"/>
<rect x="420.3" y="50" width="36.4" height="1" fill="rgb(32,32,32)"/>
<rect x="420.3" y="51" width="36.4" height="1" fill="rgb(232,232,232)"/>
<rect x="420.3" y="52" width="36.4" height="1" fill="rgb(195,195,195)"/>
<rect x="420.3" y="53" width="36.4" height="1" fill="rgb(225,225,225)"/>
<rect x="420.3" y="54" width="36.4" height="1" fill="rgb(185,185,185)"/>
<rect x="420.3" y="55" width="36.4" height="1" fill="rgb(83,83,83)"/>
<rect x="420.3" y="56" width="36.4" height="1" fill="rgb(213,213,213)"/>
<rect x="420.3" y="57" width="36.4" height="1" fill="rgb(151,151,151)"/>
<rect x="420.3" y="58" width="36.4" height="1" fill="rgb(32,32,32)"/>
<rect x="420.3" y="60" width="36.4" height="1" fill="rgb(183,183,183)"/>
<rect x="420.3" y="61" width="36.4" height="2" fill="rgb(177,177,177)"/>
<rect x="420.3" y="63" width="36.4" height="1" fill="rgb(86,86,86)"/>
<rect x="420.3" y="64" width="36.4" height="2" fill="rgb(0,0,0)"/>
<rect x="420.3" y="67" width="36.4" height="1" fill="rgb(189,189,189)"/>
<rect x="420.3" y="69" width="36.4" height="1" fill="rgb(201,201,201)"/>
<rect x="420.3" y="70" width="36.4" height="1" fill="rgb(237,237,237)"/>
<rect x="420.3" y="73" width="36.4" height="1" fill="rgb(108,108,108)"/>
<rect x="420.3" y="74" width="36.4" height="1" fill="rgb(140,140,140)"/>
<rect x="420.3" y="78" width="36.4" height="1" fill="rgb(120,120,120)"/>
<rect x="420.3" y="79" width="36.4" height="1" fill="rgb(32,32,32)"/>
<rect x="420.3" y="80" width="36.4" height="1" fill="rgb(117,117,117)"/>
<rect x="420.3" y="82" width="36.4" height="1" fill="rgb(108,108,108)"/>
<rect x="420.3" y="83" width="36.4" height="1" fill="rgb(189,189,189)"/>
<rect x="420.3" y="84" width="36.4" height="1" fill="rgb(119,119,119)"/>
<rect x="420.3" y="86" width="36.4" height="1" fill="rgb(128,128,128)"/>
<rect x="420.3" y="87" width="36.4" height="1" fill="rgb(13,13,13)"/>
<rect x="420.3" y="88" width="36.4" height="1" fill="rgb(83,83,83)"/>
<rect x="420.3" y="89" width="36.4" height="1" fill="rgb(108,108,108)"/>
<rect x="420.3" y="90" width="36.4" height="2" fill="rgb(0,0,0)"/>
<rect x="420.3" y="94" width="36.4" height="1" fill="rgb(22,22,22)"/>
<rect x="420.3" y="97" width="36.4" height="1" fill="rgb(92,92,92)"/>
<rect x="420.3" y="98" width="36.4" height="1" fill="rgb(0,0,0)"/>
<rect x="420.3" y="99" width="36.4" height="1" fill="rgb(20,20,20)"/>
<rect x="420.3" y="100" width="36.4" height="1" fill="rgb(19,19,19)"/>
<rect x="420.3" y="101" width="36.4" height="1" fill="rgb(8,8,8)"/>
<rect x="420.3" y="102" width="36.4" height="1" fill="rgb(144,144,144)"/>
<rect x="420.3" y="103" width="36.4" height="1" fill="rgb(22,22,22)"/>
<rect x="420.3" y="104" width="36.4" height="1" fill="rgb(213,213,213)"/>
<rect x="420.3" y="105" width="36.4" height="1" fill="rgb(32,32,32)"/>
<rect x="420.3" y="106" width="36.4" height="1" fill="rgb(177,177,177)"/>
<rect x="420.3" y="107" width="36.4" height="1" fill="rgb(43,43,43)"/>
<rect x="420.3" y="109" width="36.4" height="2" fill="rgb(3,3,3)"/>
<rect x="420.3" y="111" width="36.4" height="1" fill="rgb(151,151,151)"/>
<rect x="420.3" y="112" width="36.4" height="1" fill="rgb(112,112,112)"/>
<rect x="420.3" y="115" width="36.4" height="1" fill="rgb(142,142,142)"/>
<rect x="420.3" y="116" width="36.4" height="1" fill="rgb(177,177,177)"/>
<rect x="420.3" y="118" width="36.4" height="1" fill="rgb(97,97,97)"/>
<rect x="420.3" y="119" width="36.4" height="1" fill="rgb(227,227,227)"/>
<rect x="420.3" y="121" width="36.4" height="1" fill="rgb(108,108,108)"/>
<rect x="420.3" y="126" width="36.4" height="1" fill="rgb(97,97,97)"/>
<rect x="420.3" y="130" width="36.4" height="1" fill="rgb(163,163,163)"/>
<rect x="420.3" y="131" width="36.4" height="1" fill="rgb(125,125,125)"/>
<rect x="420.3" y="132" width="36.4" height="1" fill="rgb(164,164,164)"/>
<rect x="420.3" y="133" width="36.4" height="1" fill="rgb(68,68,68)"/>
<rect x="420.3" y="134" width="36.4" height="1" fill="rgb(152,152,152)"/>
<rect x="420.3" y="135" width="36.4" height="1" fill="rgb(22,22,22)"/>
<rect x="420.3" y="136" width="36.4" height="1" fill="rgb(55,55,55)"/>
<rect x="420.3" y="137" width="36.4" height="1" fill="rgb(201,201,201)"/>
<rect x="420.3" y="138" width="36.4" height="1" fill="rgb(137,137,137)"/>
<rect x="420.3" y="139" width="36.4" height="1" fill="rgb(201,201,201)"/>
<rect x="420.3" y="140" width="36.4" height="2" fill="rgb(8,8,8)"/>
<rect x="420.3" y="142" width="36.4" height="1" fill="rgb(86,86,86)"/>
<rect x="420.3" y="143" width="36.4" height="1" fill="rgb(109,109,109)"/>
<rect x="420.3" y="144" width="36.4" height="1" fill="rgb(119,119,119)"/>
<rect x="420.3" y="145" width="36.4" height="2" fill="rgb(97,97,97)"/>
<rect x="420.3" y="147" width="36.4" height="1" fill="rgb(131,131,131)"/>
<rect x="420.3" y="148" width="36.4" height="1" fill="rgb(13,13,13)"/>
<rect x="420.3" y="149" width="36.4" height="1" fill="rgb(8,8,8)"/>
<rect x="420.3" y="150" width="36.4" height="1" fill="rgb(108,108,108)"/>
<rect x="420.3" y="151" width="36.4" height="1" fill="rgb(159,159,159)"/>
<rect x="420.3" y="152" width="36.4" height="1" fill="rgb(119,119,119)"/>
<rect x="420.3" y="153" width="36.4" height="1" fill="rgb(126,126,126)"/>
<rect x="420.3" y="154" width="36.4" height="1" fill="rgb(0,0,0)"/>
<rect x="420.3" y="155" width="36.4" height="1" fill="rgb(171,171,171)"/>
<rect x="420.3" y="156" width="36.4" height="1" fill="rgb(208,208,208)"/>
<rect x="420.3" y="157" width="36.4" height="1" fill="rgb(32,32,32)"/>
<rect x="420.3" y="158" width="36.4" height="1" fill="rgb(108,108,108)"/>
<rect x="420.3" y="159" width="36.4" height="1" fill="rgb(86,86,86)"/>
<rect x="420.3" y="160" width="36.4" height="1" fill="rgb(90,90,90)"/>
<rect x="420.3" y="161" width="36.4" height="1" fill="rgb(144,144,144)"/>
<rect x="420.3" y="163" width="36.4" height="1" fill="rgb(230,230,230)"/>
<rect x="420.3" y="164" width="36.4" height="1" fill="rgb(102,102,102)"/>
<rect x="420.3" y="165" width="36.4" height="1" fill="rgb(53,53,53)"/>
<rect x="420.3" y="167" width="36.4" height="1" fill="rgb(192,192,192)"/>
<rect x="420.3" y="168" width="36.4" height="1" fill="rgb(90,90,90)"/>
<rect x="420.3" y="169" width="36.4" height="1" fill="rgb(75,75,75)"/>
<rect x="420.3" y="171" width="36.4" height="3" fill="rgb(0,0,0)"/>
<rect x="420.3" y="174" width="36.4" height="2" fill="rgb(97,97,97)"/>
<rect x="420.3" y="176" width="36.4" height="1" fill="rgb(131,131,131)"/>
<rect x="420.3" y="177" width="36.4" height="1" fill="rgb(203,203,203)"/>
<rect x="420.3" y="180" width="36.4" height="1" fill="rgb(182,182,182)"/>
<rect x="420.3" y="181" width="36.4" height="1" fill="rgb(57,57,57)"/>
<rect x="420.3" y="184" width="36.4" height="1" fill="rgb(142,142,142)"/>
<rect x="420.3" y="185" width="36.4" height="1" fill="rgb(177,177,177)"/>
<rect x="420.3" y="186" width="36.4" height="1" fill="rgb(149,149,149)"/>
<rect x="420.3" y="187" width="36.4" height="1" fill="rgb(75,75,75)"/>
<rect x="420.3" y="188" width="36.4" height="3" fill="rgb(0,0,0)"/>
<rect x="420.3" y="191" width="36.4" height="1" fill="rgb(231,231,231)"/>
<rect x="420.3" y="192" width="36.4" height="1" fill="rgb(32,32,32)"/>
<rect x="420.3" y="193" width="36.4" height="1" fill="rgb(184,184,184)"/>
<rect x="420.3" y="194" width="36.4" height="1" fill="rgb(155,155,155)"/>
<rect x="420.3" y="195" width="36.4" height="1" fill="rgb(127,127,127)"/>
<rect x="420.3" y="196" width="36.4" height="1" fill="rgb(213,213,213)"/>
<rect x="420.3" y="197" width="36.4" height="1" fill="rgb(142,142,142)"/>
<rect x="420.3" y="198" width="36.4" height="1" fill="rgb(165,165,165)"/>
<rect x="420.3" y="199" width="36.4" height="1" fill="rgb(151,151,151)"/>
<rect x="420.3" y="200" width="36.4" height="1" fill="rgb(165,165,165)"/>
<rect x="420.3" y="201" width="36.4" height="1" fill="rgb(189,189,189)"/>
<rect x="420.3" y="202" width="36.4" height="1" fill="rgb(154,154,154)"/>
<rect x="420.3" y="203" width="36.4" height="1" fill="rgb(131,131,131)"/>
<rect x="420.3" y="204" width="36.4" height="1" fill="rgb(201,201,201)"/>
<rect x="420.3" y="205" width="36.4" height="1" fill="rgb(137,137,137)"/>
<rect x="420.3" y="206" width="36.4" height="1" fill="rgb(213,213,213)"/>
<rect x="420.3" y="207" width="36.4" height="1" fill="rgb(156,156,156)"/>
<rect x="420.3" y="208" width="36.4" height="1" fill="rgb(243,243,243)"/>
<rect x="420.3" y="209" width="36.4" height="1" fill="rgb(218,218,218)"/>
<rect x="420.3" y="210" width="36.4" height="1" fill="rgb(13,13,13)"/>
<rect x="420.3" y="211" width="36.4" height="1" fill="rgb(243,243,243)"/>
<rect x="420.3" y="212" width="36.4" height="1" fill="rgb(116,116,116)"/>
<rect x="420.3" y="213" width="36.4" height="1" fill="rgb(3,3,3)"/>
<rect x="420.3" y="214" width="36.4" height="1" fill="rgb(26,26,26)"/>
</g>
<rect x="437.99" y="37.3" width="0.75" height="177.40" fill="#000"/>
<g>
<rect x="492.5" y="37" width="36.4" height="1" fill="rgb(142,142,142)"/>
<rect x="492.5" y="38" width="36.4" height="1" fill="rgb(32,32,32)"/>
<rect x="492.5" y="39" width="36.4" height="1" fill="rgb(119,119,119)"/>
<rect x="492.5" y="40" width="36.4" height="1" fill="rgb(177,177,177)"/>
<rect x="492.5" y="42" width="36.4" height="1" fill="rgb(208,208,208)"/>
<rect x="492.5" y="43" width="36.4" height="1" fill="rgb(13,13,13)"/>
<rect x="492.5" y="45" width="36.4" height="1" fill="rgb(142,142,142)"/>
<rect x="492.5" y="46" width="36.4" height="1" fill="rgb(165,165,165)"/>
<rect x="492.5" y="47" width="36.4" height="1" fill="rgb(131,131,131)"/>
<rect x="492.5" y="48" width="36.4" height="1" fill="rgb(154,154,154)"/>
<rect x="492.5" y="49" width="36.4" height="1" fill="rgb(53,53,53)"/>
<rect x="492.5" y="50" width="36.4" height="2" fill="rgb(165,165,165)"/>
<rect x="492.5" y="52" width="36.4" height="1" fill="rgb(177,177,177)"/>
<rect x="492.5" y="53" width="36.4" height="1" fill="rgb(195,195,195)"/>
<rect x="492.5" y="54" width="36.4" height="1" fill="rgb(202,202,202)"/>
<rect x="492.5" y="55" width="36.4" height="2" fill="rgb(0,0,0)"/>
<rect x="492.5" y="57" width="36.4" height="1" fill="rgb(142,142,142)"/>
<rect x="492.5" y="60" width="36.4" height="1" fill="rgb(119,119,119)"/>
<rect x="492.5" y="61" width="36.4" height="1" fill="rgb(213,213,213)"/>
<rect x="492.5" y="62" width="36.4" height="1" fill="rgb(43,43,43)"/>
<rect x="492.5" y="63" width="36.4" height="1" fill="rgb(176,176,176)"/>
<rect x="492.5" y="70" width="36.4" height="1" fill="rgb(189,189,189)"/>
<rect x="492.5" y="71" width="36.4" height="1" fill="rgb(232,232,232)"/>
<rect x="492.5" y="73" width="36.4" height="1" fill="rgb(119,119,119)"/>
<rect x="492.5" y="74" width="36.4" height="1" fill="rgb(249,249,249)"/>
<rect x="492.5" y="75" width="36.4" height="1" fill="rgb(228,228,228)"/>
<rect x="492.5" y="76" width="36.4" height="1" fill="rgb(219,219,219)"/>
<rect x="492.5" y="77" width="36.4" height="1" fill="rgb(183,183,183)"/>
<rect x="492.5" y="78" width="36.4" height="1" fill="rgb(13,13,13)"/>
<rect x="492.5" y="79" width="36.4" height="1" fill="rgb(33,33,33)"/>
<rect x="492.5" y="80" width="36.4" height="1" fill="rgb(243,243,243)"/>
<rect x="492.5" y="81" width="36.4" height="1" fill="rgb(97,97,97)"/>
<rect x="492.5" y="82" width="36.4" height="1" fill="rgb(142,142,142)"/>
<rect x="492.5" y="83" width="36.4" height="1" fill="rgb(177,177,177)"/>
<rect x="492.5" y="84" width="36.4" height="1" fill="rgb(22,22,22)"/>
<rect x="492.5" y="87" width="36.4" height="1" fill="rgb(201,201,201)"/>
<rect x="492.5" y="88" width="36.4" height="1" fill="rgb(249,249,249)"/>
<rect x="492.5" y="92" width="36.4" height="1" fill="rgb(32,32,32)"/>
<rect x="492.5" y="93" width="36.4" height="1" fill="rgb(42,42,42)"/>
<rect x="492.5" y="94" width="36.4" height="1" fill="rgb(131,131,131)"/>
<rect x="492.5" y="95" width="36.4" height="1" fill="rgb(201,201,201)"/>
<rect x="492.5" y="96" width="36.4" height="1" fill="rgb(142,142,142)"/>
<rect x="492.5" y="97" width="36.4" height="1" fill="rgb(213,213,213)"/>
<rect x="492.5" y="98" width="36.4" height="1" fill="rgb(201,201,201)"/>
<rect x="492.5" y="99" width="36.4" height="1" fill="rgb(97,97,97)"/>
<rect x="492.5" y="100" width="36.4" height="3" fill="rgb(0,0,0)"/>
<rect x="492.5" y="103" width="36.4" height="1" fill="rgb(64,64,64)"/>
<rect x="492.5" y="104" width="36.4" height="1" fill="rgb(97,97,97)"/>
<rect x="492.5" y="105" width="36.4" height="1" fill="rgb(225,225,225)"/>
<rect x="492.5" y="107" width="36.4" height="1" fill="rgb(32,32,32)"/>
<rect x="492.5" y="108" width="36.4" height="1" fill="rgb(97,97,97)"/>
<rect x="492.5" y="109" width="36.4" height="1" fill="rgb(108,108,108)"/>
<rect x="492.5" y="110" width="36.4" height="1" fill="rgb(88,88,88)"/>
<rect x="492.5" y="111" width="36.4" height="2" fill="rgb(0,0,0)"/>
<rect x="492.5" y="113" width="36.4" height="1" fill="rgb(213,213,213)"/>
<rect x="492.5" y="116" width="36.4" height="1" fill="rgb(97,97,97)"/>
<rect x="492.5" y="117" width="36.4" height="1" fill="rgb(128,128,128)"/>
<rect x="492.5" y="118" width="36.4" height="1" fill="rgb(13,13,13)"/>
<rect x="492.5" y="119" width="36.4" height="1" fill="rgb(39,39,39)"/>
<rect x="492.5" y="120" width="36.4" height="1" fill="rgb(3,3,3)"/>
<rect x="492.5" y="121" width="36.4" height="1" fill="rgb(64,64,64)"/>
<rect x="492.5" y="122" width="36.4" height="1" fill="rgb(13,13,13)"/>
<rect x="492.5" y="123" width="36.4" height="1" fill="rgb(53,53,53)"/>
<rect x="492.5" y="125" width="36.4" height="1" fill="rgb(170,170,170)"/>
<rect x="492.5" y="126" width="36.4" height="1" fill="rgb(43,43,43)"/>
<rect x="492.5" y="127" width="36.4" height="2" fill="rgb(249,249,249)"/>
<rect x="492.5" y="129" width="36.4" height="1" fill="rgb(53,53,53)"/>
<rect x="492.5" y="130" width="36.4" height="1" fill="rgb(92,92,92)"/>
<rect x="492.5" y="131" width="36.4" height="1" fill="rgb(119,119,119)"/>
<rect x="492.5" y="132" width="36.4" height="1" fill="rgb(53,53,53)"/>
<rect x="492.5" y="133" width="36.4" height="1" fill="rgb(61,61,61)"/>
<rect x="492.5" y="134" width="36.4" height="1" fill="rgb(131,131,131)"/>
<rect x="492.5" y="135" width="36.4" height="1" fill="rgb(53,53,53)"/>
<rect x="492.5" y="136" width="36.4" height="1" fill="rgb(97,97,97)"/>
<rect x="492.5" y="137" width="36.4" height="1" fill="rgb(108,108,108)"/>
<rect x="492.5" y="138" width="36.4" height="1" fill="rgb(53,53,53)"/>
<rect x="492.5" y="139" width="36.4" height="1" fill="rgb(154,154,154)"/>
<rect x="492.5" y="140" width="36.4" height="1" fill="rgb(66,66,66)"/>
<rect x="492.5" y="141" width="36.4" height="1" fill="rgb(225,225,225)"/>
<rect x="492.5" y="142" width="36.4" height="1" fill="rgb(108,108,108)"/>
<rect x="492.5" y="143" width="36.4" height="1" fill="rgb(118,118,118)"/>
<rect x="492.5" y="144" width="36.4" height="1" fill="rgb(213,213,213)"/>
<rect x="492.5" y="145" width="36.4" height="3" fill="rgb(0,0,0)"/>
<rect x="492.5" y="148" width="36.4" height="1" fill="rgb(51,51,51)"/>
<rect x="492.5" y="149" width="36.4" height="1" fill="rgb(137,137,137)"/>
<rect x="492.5" y="150" width="36.4" height="1" fill="rgb(165,165,165)"/>
<rect x="492.5" y="151" width="36.4" height="1" fill="rgb(137,137,137)"/>
<rect x="492.5" y="152" width="36.4" height="1" fill="rgb(97,97,97)"/>
<rect x="492.5" y="153" width="36.4" height="1" fill="rgb(32,32,32)"/>
<rect x="492.5" y="154" width="36.4" height="1" fill="rgb(165,165,165)"/>
<rect x="492.5" y="155" width="36.4" height="1" fill="rgb(8,8,8)"/>
<rect x="492.5" y="156" width="36.4" height="1" fill="rgb(13,13,13)"/>
<rect x="492.5" y="157" width="36.4" height="1" fill="rgb(38,38,38)"/>
<rect x="492.5" y="158" width="36.4" height="1" fill="rgb(13,13,13)"/>
<rect x="492.5" y="159" width="36.4" height="1" fill="rgb(75,75,75)"/>
<rect x="492.5" y="160" width="36.4" height="1" fill="rgb(22,22,22)"/>
<rect x="492.5" y="163" width="36.4" height="1" fill="rgb(3,3,3)"/>
<rect x="492.5" y="164" width="36.4" height="1" fill="rgb(25,25,25)"/>
<rect x="492.5" y="166" width="36.4" height="1" fill="rgb(8,8,8)"/>
<rect x="492.5" y="167" width="36.4" height="1" fill="rgb(19,19,19)"/>
<rect x="492.5" y="168" width="36.4" height="1" fill="rgb(131,131,131)"/>
<rect x="492.5" y="169" width="36.4" height="1" fill="rgb(81,81,81)"/>
<rect x="492.5" y="170" width="36.4" height="1" fill="rgb(111,111,111)"/>
<rect x="492.5" y="171" width="36.4" height="1" fill="rgb(43,43,43)"/>
<rect x="492.5" y="172" width="36.4" height="1" fill="rgb(142,142,142)"/>
<rect x="492.5" y="173" width="36.4" height="1" fill="rgb(53,53,53)"/>
<rect x="492.5" y="174" width="36.4" height="1" fill="rgb(234,234,234)"/>
<rect x="492.5" y="175" width="36.4" height="1" fill="rgb(122,122,122)"/>
<rect x="492.5" y="176" width="36.4" height="1" fill="rgb(144,144,144)"/>
<rect x="492.5" y="177" width="36.4" height="1" fill="rgb(108,108,108)"/>
<rect x="492.5" y="178" width="36.4" height="1" fill="rgb(225,225,225)"/>
<rect x="492.5" y="179" width="36.4" height="1" fill="rgb(164,164,164)"/>
<rect x="492.5" y="180" width="36.4" height="1" fill="rgb(151,151,151)"/>
<rect x="492.5" y="182" width="36.4" height="1" fill="rgb(131,131,131)"/>
<rect x="492.5" y="183" width="36.4" height="1" fill="rgb(140,140,140)"/>
<rect x="492.5" y="184" width="36.4" height="1" fill="rgb(129,129,129)"/>
<rect x="492.5" y="185" width="36.4" height="1" fill="rgb(159,159,159)"/>
<rect x="492.5" y="186" width="36.4" height="1" fill="rgb(131,131,131)"/>
<rect x="492.5" y="187" width="36.4" height="1" fill="rgb(154,154,154)"/>
<rect x="492.5" y="188" width="36.4" height="1" fill="rgb(3,3,3)"/>
<rect x="492.5" y="189" width="36.4" height="1" fill="rgb(239,239,239)"/>
</g>
<rect x="510.15" y="37.3" width="0.75" height="152.00" fill="#000"/>
<rect x="41.5" y="29.8" width="505.1" height="200.0" fill="none" stroke="#404040" stroke-width="0.9"/>
<line x1="36.7" y1="37.50" x2="41.5" y2="37.50" stroke="#404040" stroke-width="0.9"/>
<text x="32.0" y="40.60" text-anchor="end" font-size="8">0</text>
<line x1="36.7" y1="88.91" x2="41.5" y2="88.91" stroke="#404040" stroke-width="0.9"/>
<text x="32.0" y="92.01" text-anchor="end" font-size="8">50</text>
<line x1="36.7" y1="140.33" x2="41.5" y2="140.33" stroke="#404040" stroke-width="0.9"/>
<text x="32.0" y="143.43" text-anchor="end" font-size="8">100</text>
<line x1="36.7" y1="191.75" x2="41.5" y2="191.75" stroke="#404040" stroke-width="0.9"/>
<text x="32.0" y="194.84" text-anchor="end" font-size="8">150</text>
<line x1="77.58" y1="229.8" x2="77.58" y2="234.6" stroke="#404040" stroke-width="0.9"/>
<text x="77.58" y="247" text-anchor="middle" font-size="8">1</text>
<line x1="149.74" y1="229.8" x2="149.74" y2="234.6" stroke="#404040" stroke-width="0.9"/>
<text x="149.74" y="247" text-anchor="middle" font-size="8">2</text>
<line x1="221.89" y1="229.8" x2="221.89" y2="234.6" stroke="#404040" stroke-width="0.9"/>
<text x="221.89" y="247" text-anchor="middle" font-size="8">3</text>
<line x1="294.05" y1="229.8" x2="294.05" y2="234.6" stroke="#404040" stroke-width="0.9"/>
<text x="294.05" y="247" text-anchor="middle" font-size="8">4</text>
<line x1="366.21" y1="229.8" x2="366.21" y2="234.6" stroke="#404040" stroke-width="0.9"/>
<text x="366.21" y="247" text-anchor="middle" font-size="8">5</text>
<line x1="438.36" y1="229.8" x2="438.36" y2="234.6" stroke="#404040" stroke-width="0.9"/>
<text x="438.36" y="247" text-anchor="middle" font-size="8">6</text>
<line x1="510.52" y1="229.8" x2="510.52" y2="234.6" stroke="#404040" stroke-width="0.9"/>
<text x="510.52" y="247" text-anchor="middle" font-size="8">7</text>
<text x="294" y="266.8" text-anchor="middle" font-size="7.9">Linkage Group</text>
<text x="294" y="13.5" text-anchor="middle" font-size="9.2" font-weight="bold">Genetic Map</text>
<text transform="translate(11.6,130.2) rotate(-90)" text-anchor="middle" font-size="8">Location (cM)</text>
</svg>
</body></html>
